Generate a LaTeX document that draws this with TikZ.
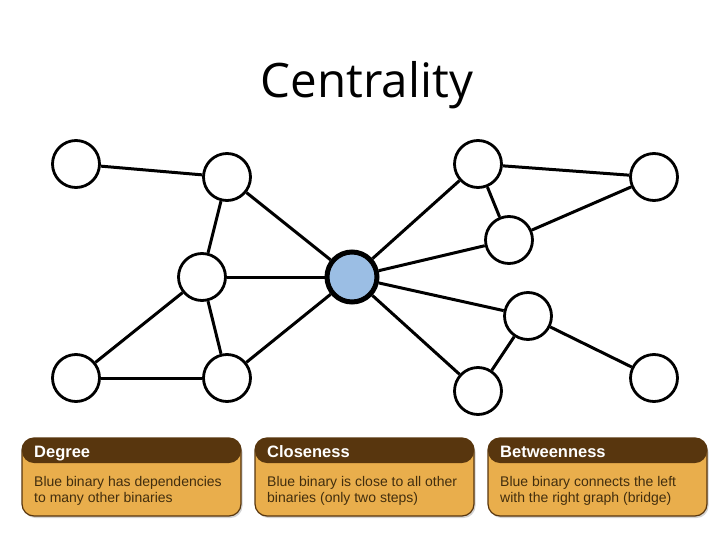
\documentclass[tikz,border=0pt]{standalone}
\usepackage{fontspec}
\setmainfont{Liberation Sans}
\newfontfamily\titlefont{Open Sans}
\usetikzlibrary{shadows}
\definecolor{binblue}{RGB}{155,190,228}
\definecolor{boxbrown}{RGB}{88,54,14}
\definecolor{boxorange}{RGB}{233,174,76}
\definecolor{boxtext}{RGB}{66,46,14}
\tikzset{
  vertex/.style={circle, draw, line width=2.8pt, fill=white, minimum size=47pt, inner sep=0pt},
  hub/.style={vertex, line width=5pt, fill=binblue, minimum size=50pt},
  link/.style={line width=3pt},
  infobox/.style={rectangle, rounded corners=12pt, fill=boxorange, draw=boxbrown, line width=1.2pt,
    minimum width=219pt, minimum height=78pt, inner sep=0pt,
    drop shadow={shadow xshift=1.5pt, shadow yshift=-2pt, opacity=.35},
    path picture={\fill[boxbrown] (path picture bounding box.north west) rectangle ([yshift=-25pt]path picture bounding box.north east);}},
  boxtitle/.style={text=white, font=\bfseries\fontsize{16.5}{19}\selectfont, inner sep=0pt},
  boxbody/.style={text=boxtext, font=\fontsize{14}{16}\selectfont, align=left, inner sep=0pt},
}
\begin{document}
\begin{tikzpicture}[x=1pt,y=-1pt]
\useasboundingbox (0,0) rectangle (728,546);
\node[anchor=base, inner sep=0pt, font=\titlefont\fontsize{47.5}{56}\selectfont] (title) at (367,97) {Centrality};
% left graph
\node[vertex] (v1) at (76,164){};
\node[vertex] (v2) at (227,177){};
\node[vertex] (v3) at (202,277){};
\node[vertex] (v4) at (76,378){};
\node[vertex] (v5) at (227,378){};
% blue binary
\node[hub] (hub) at (352,277){};
% right graph
\node[vertex] (v6) at (478,164){};
\node[vertex] (v7) at (654,177){};
\node[vertex] (v8) at (509,240){};
\node[vertex] (v9) at (528,316){};
\node[vertex] (v10) at (478,391){};
\node[vertex] (v11) at (654,378){};
\draw[link](v1) -- (v2);
\draw[link](v2) -- (v3);
\draw[link](v3) -- (v4);
\draw[link](v3) -- (v5);
\draw[link](v4) -- (v5);
\draw[link](v2) -- (hub);
\draw[link](v3) -- (hub);
\draw[link](v5) -- (hub);
\draw[link](hub) -- (v6);
\draw[link](hub) -- (v8);
\draw[link](hub) -- (v9);
\draw[link](hub) -- (v10);
\draw[link](v6) -- (v7);
\draw[link](v6) -- (v8);
\draw[link](v8) -- (v7);
\draw[link](v9) -- (v11);
\draw[link](v9) -- (v10);
% boxes
\foreach \x/\name/\head/\body in {
  22/degree/Degree/{Blue binary has dependencies\\to many other binaries},
  255/closeness/Closeness/{Blue binary is close to all other\\binaries (only two steps)},
  488/betweenness/Betweenness/{Blue binary connects the left\\with the right graph (bridge)}}{
  \node[infobox] (\name) at (\x+109.5,477){};
  \node[boxtitle, anchor=base west] (\name-head) at (\x+12,457){\head};
  \node[boxbody, anchor=base west] (\name-body) at (\x+12,502){\body};
}
\end{tikzpicture}
\end{document}
